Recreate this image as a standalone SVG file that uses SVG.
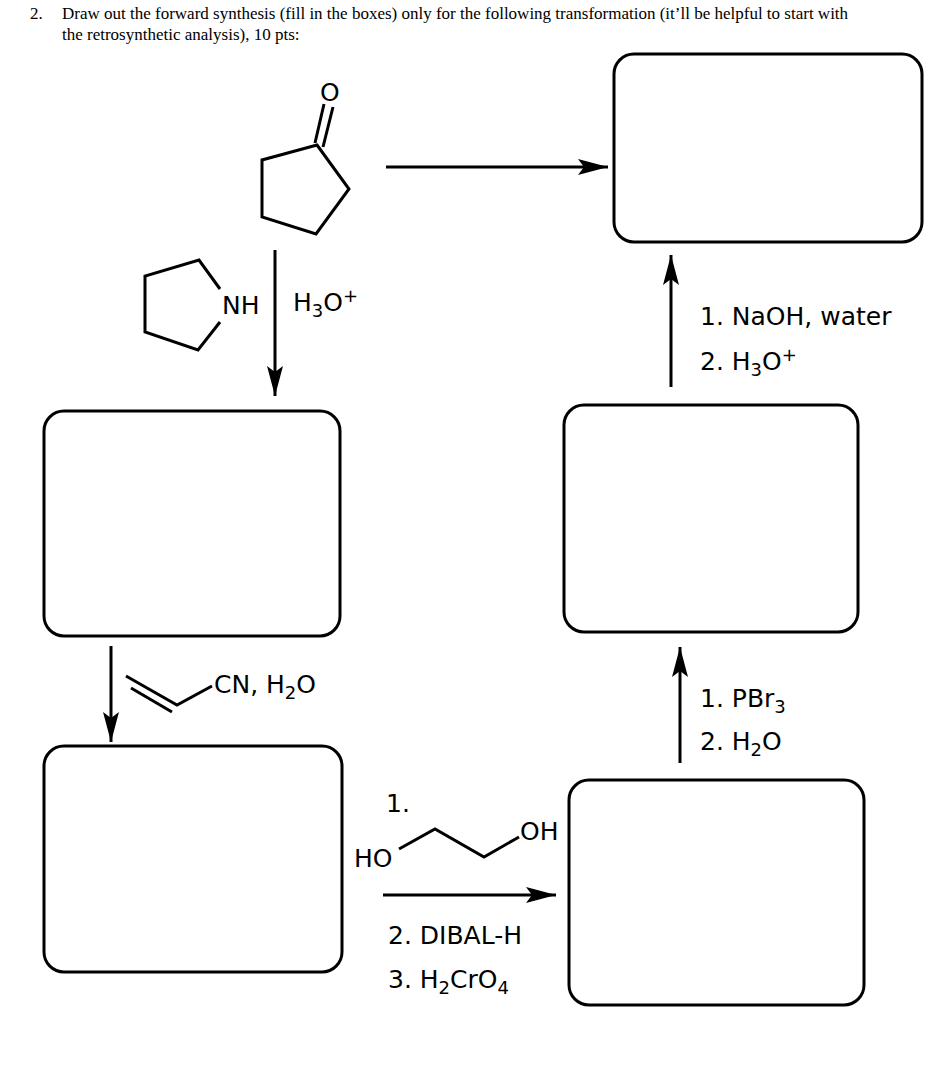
<svg xmlns="http://www.w3.org/2000/svg" width="950" height="1068" viewBox="0 0 950 1068">
<style>
.hd{font-family:"Liberation Serif",serif;font-size:17px;fill:#000}
.t{font-family:"DejaVu Sans",sans-serif;font-size:25px;fill:#000}
.b{fill:#fff;stroke:#000;stroke-width:3}
.l{fill:none;stroke:#000;stroke-width:3.5;stroke-linejoin:miter}
.s{fill:none;stroke:#000;stroke-width:3}
</style>
<defs><marker id="a" markerWidth="10" markerHeight="8" refX="9" refY="4" orient="auto" markerUnits="userSpaceOnUse" viewBox="0 0 10 8"><path d="M0,0L10,4L0,8z"/></marker>
<marker id="h" viewBox="0 0 30 16" refX="30" refY="8" markerWidth="30" markerHeight="16" orient="auto" markerUnits="userSpaceOnUse"><path d="M0,0L30,8L0,16L6,8z" fill="#000"/></marker></defs>
<text class="hd" x="30" y="19">2.</text>
<text class="hd" x="62" y="19">Draw out the forward synthesis (fill in the boxes) only for the following transformation (it’ll be helpful to start with</text>
<text class="hd" x="62" y="40">the retrosynthetic analysis), 10 pts:</text>
<g id="cyclopentanone">
<path class="s" d="M317,145L349,189L316,234L262,217L262,160Z"/>
<path class="s" d="M315,143L324,104M323,147L333,107"/>
<text class="t" x="320" y="101">O</text>
</g>
<g id="pyrrolidine">
<path class="s" d="M220,289L199,260L145,276L145,332L198,350L220,322"/>
<text class="t" x="222" y="314">NH</text>
</g>
<text class="t" x="293" y="311">H<tspan font-size="18" dy="6">3</tspan><tspan dy="-6">O</tspan><tspan font-size="18" dy="-9">+</tspan></text>
<g id="box1"><rect class="b" x="614" y="54" width="308" height="188" rx="20"/></g>
<g id="box2"><rect class="b" x="44" y="411" width="296" height="225" rx="20"/></g>
<g id="box3"><rect class="b" x="564" y="405" width="294" height="227" rx="20"/></g>
<g id="box4"><rect class="b" x="44" y="746" width="298" height="226" rx="20"/></g>
<g id="box5"><rect class="b" x="569" y="780" width="295" height="225" rx="20"/></g>
<g id="connectors">
<line class="s" x1="386" y1="167" x2="608" y2="167" marker-end="url(#h)"/>
<line class="s" x1="275" y1="250" x2="275" y2="396" marker-end="url(#h)"/>
<line class="s" x1="671" y1="387" x2="671" y2="255" marker-end="url(#h)"/>
<line class="s" x1="111" y1="646" x2="111" y2="742" marker-end="url(#h)"/>
<line class="s" x1="680" y1="763" x2="680" y2="647" marker-end="url(#h)"/>
<line class="s" x1="383" y1="895" x2="556" y2="895" marker-end="url(#h)"/>
</g>
<text class="t" x="700" y="325">1. NaOH, water</text>
<text class="t" x="700" y="370">2. H<tspan font-size="18" dy="6">3</tspan><tspan dy="-6">O</tspan><tspan font-size="18" dy="-9">+</tspan></text>
<g id="acrylonitrile">
<path class="s" d="M126,676L177,705L212,686M131,688L172,712"/>
<text class="t" x="214" y="693">CN, H<tspan font-size="18" dy="6">2</tspan><tspan dy="-6">O</tspan></text>
</g>
<text class="t" x="700" y="707">1. PBr<tspan font-size="18" dy="6">3</tspan></text>
<text class="t" x="700" y="750">2. H<tspan font-size="18" dy="6">2</tspan><tspan dy="-6">O</tspan></text>
<g id="diol">
<text class="t" x="386" y="812">1.</text>
<path class="s" d="M399,849L435,829L484,857L519,837"/>
<text class="t" x="354" y="867">HO</text>
<text class="t" x="520" y="840">OH</text>
</g>
<text class="t" x="388" y="944">2. DIBAL-H</text>
<text class="t" x="388" y="988">3. H<tspan font-size="18" dy="6">2</tspan><tspan dy="-6">CrO</tspan><tspan font-size="18" dy="6">4</tspan></text>
</svg>
